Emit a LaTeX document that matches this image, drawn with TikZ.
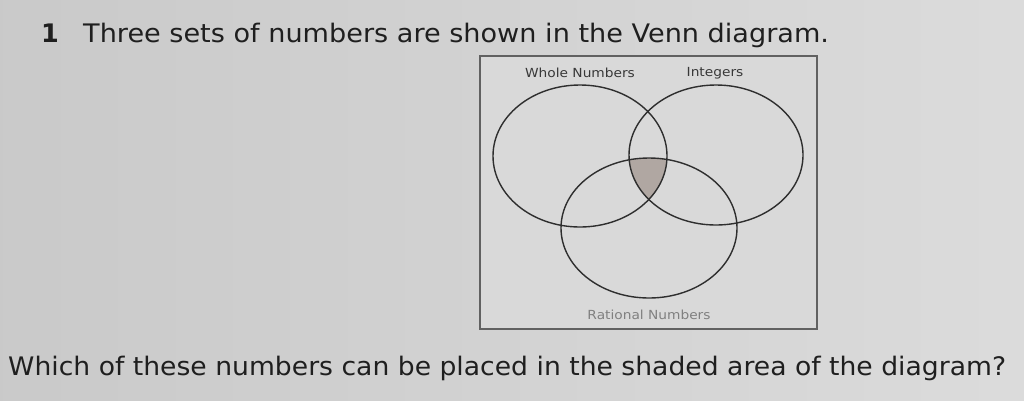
\documentclass[tikz,border=0pt]{standalone}
\usepackage{fontspec}
\setmainfont{DejaVu Sans}
\definecolor{shadefill}{RGB}{176,167,162}
\begin{document}
\begin{tikzpicture}[x=1pt,y=-1pt,
  qtext/.style={font=\fontsize{25.5}{30}\selectfont, text=black!88, inner sep=0pt, anchor=base west},
  setlabel/.style={font=\fontsize{12.5}{15}\selectfont, text=black!78, inner sep=0pt, xscale=1.1},
  venn/.style={draw=black!82, line width=1.4pt}]
\useasboundingbox (0,0) rectangle (1024,400);
\shade[left color=black!21, right color=black!14] (0,0) rectangle (1024,400);
% diagram box
\draw[draw=black!62, fill=black!15, line width=1.8pt] (480,56) rectangle (817,329);
% shaded triple intersection
\begin{scope}
  \clip (580,156) ellipse [x radius=87, y radius=71];
  \clip (716,155) ellipse [x radius=87, y radius=70];
  \fill[fill=shadefill] (649,228) ellipse [x radius=88, y radius=70];
\end{scope}
\draw[venn] (580,156) ellipse [x radius=87, y radius=71];
\draw[venn] (716,155) ellipse [x radius=87, y radius=70];
\draw[venn] (649,228) ellipse [x radius=88, y radius=70];
\node[setlabel] (whole) at (580,73) {Whole Numbers};
\node[setlabel] (integers) at (715,73) {Integers};
\node[setlabel, text=black!50] (rational) at (649,315) {Rational Numbers};
\node[qtext, font=\fontsize{25.5}{30}\selectfont\bfseries] (num) at (41,42) {1};
\node[qtext, xscale=1.063] (title) at (83,42) {Three sets of numbers are shown in the Venn diagram.};
\node[qtext, xscale=1.044] (question) at (8,375) {Which of these numbers can be placed in the shaded area of the diagram?};
\end{tikzpicture}
\end{document}
